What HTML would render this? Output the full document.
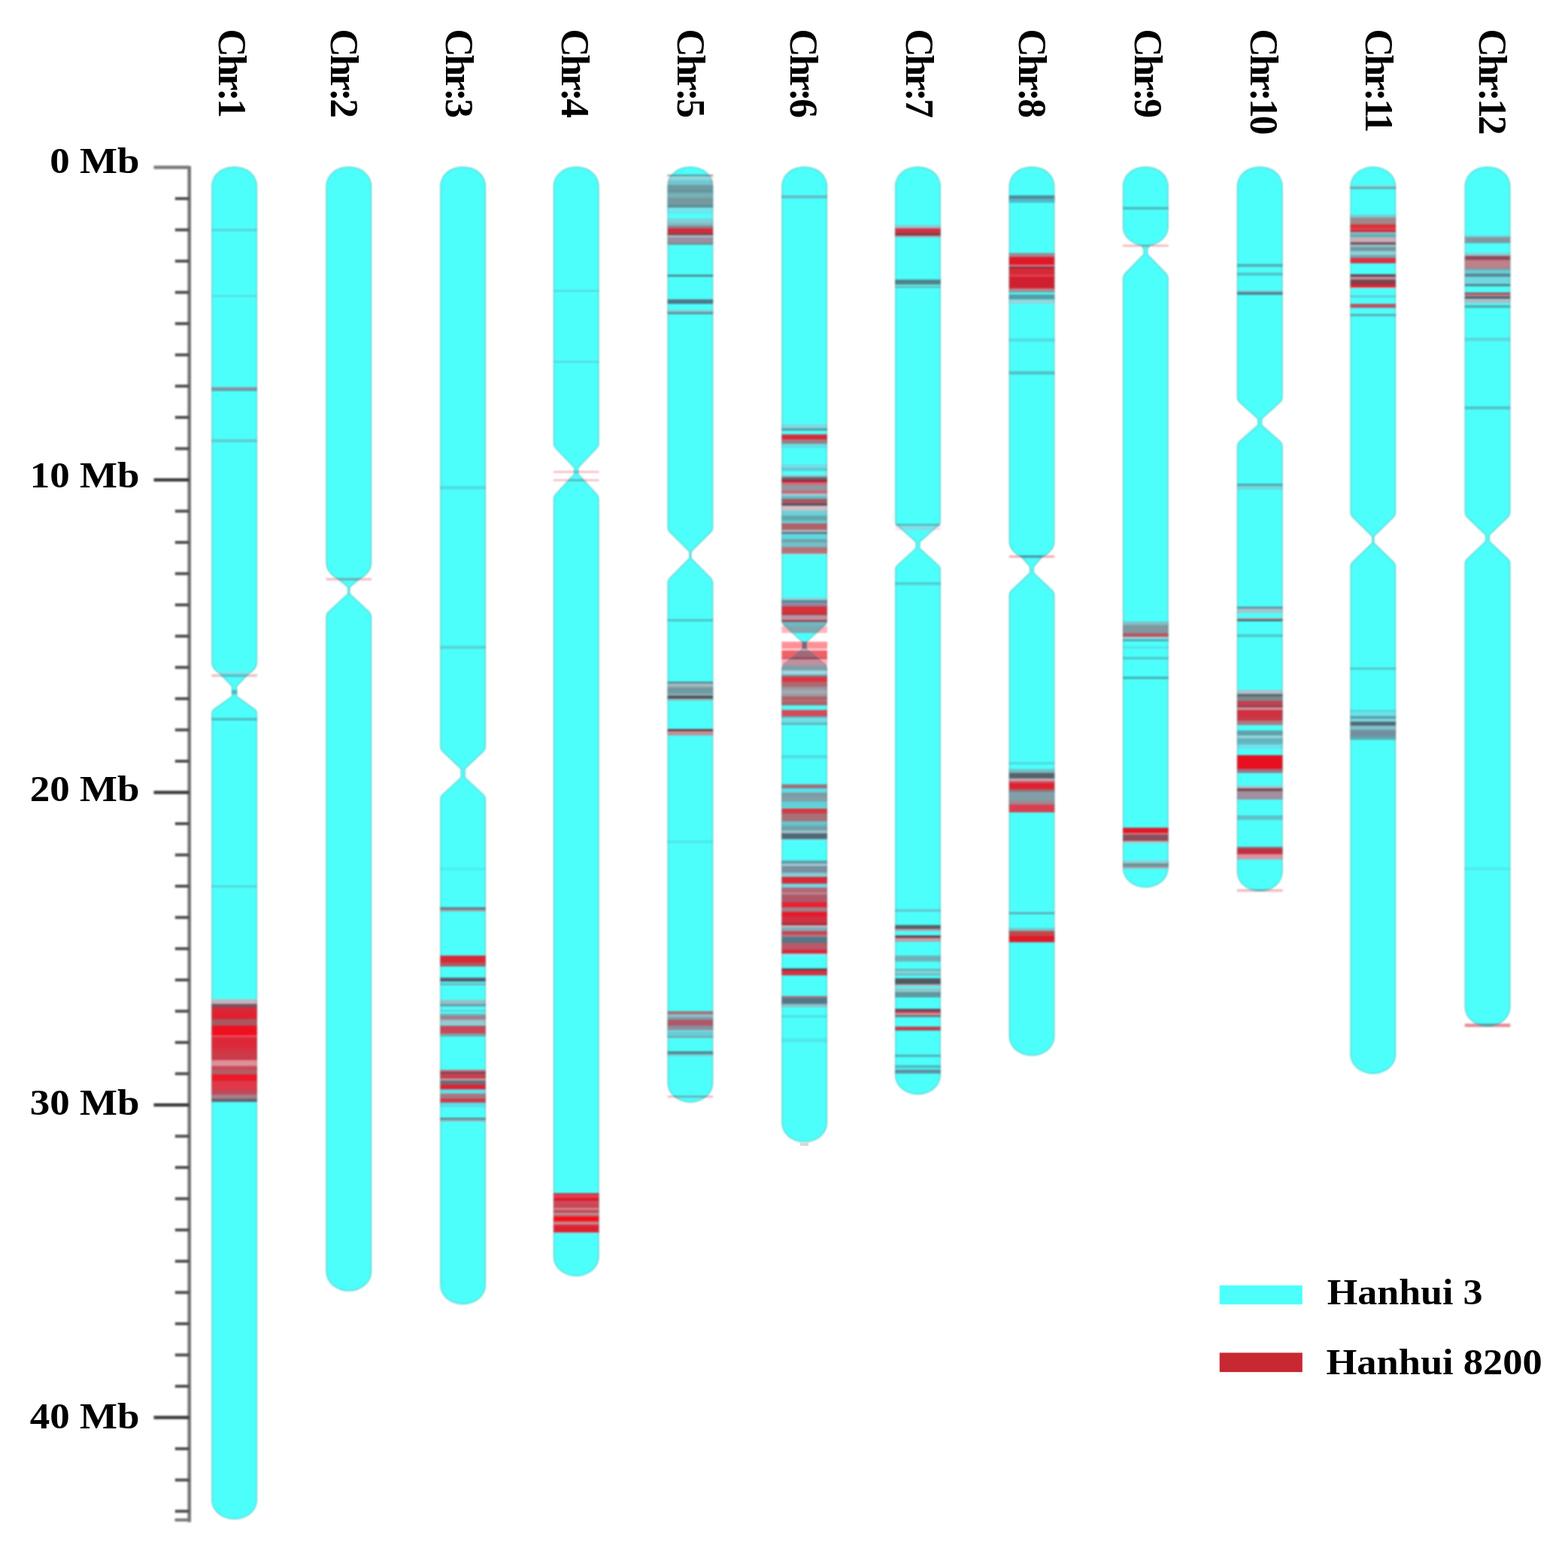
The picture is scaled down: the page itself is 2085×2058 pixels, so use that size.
<!DOCTYPE html>
<html lang="en">
<head>
<meta charset="utf-8">
<title>Chromosome map: Hanhui 3 / Hanhui 8200</title>
<style>
html,body{margin:0;padding:0;background:#fff;}
body{width:2085px;height:2058px;overflow:hidden;}
svg{display:block;}
text{font-family:"Liberation Serif","DejaVu Serif",serif;font-weight:bold;fill:#000;}
</style>
</head>
<body>
<svg width="2085" height="2058" viewBox="0 0 2085 2058">
<rect width="2085" height="2058" fill="#ffffff"/>
<defs>
<filter id="f1" x="275.6" y="215.4" width="72" height="1812.6" filterUnits="userSpaceOnUse" color-interpolation-filters="sRGB"><feGaussianBlur stdDeviation="1.05 1"/></filter>
<filter id="f2" x="427.8" y="215.4" width="72" height="1509.2" filterUnits="userSpaceOnUse" color-interpolation-filters="sRGB"><feGaussianBlur stdDeviation="1.05 1"/></filter>
<filter id="f3" x="579.6" y="215.4" width="72" height="1526.8" filterUnits="userSpaceOnUse" color-interpolation-filters="sRGB"><feGaussianBlur stdDeviation="1.05 1"/></filter>
<filter id="f4" x="730.2" y="215.4" width="72" height="1489.4" filterUnits="userSpaceOnUse" color-interpolation-filters="sRGB"><feGaussianBlur stdDeviation="1.05 1"/></filter>
<filter id="f5" x="881.9" y="215.4" width="72" height="1258.4" filterUnits="userSpaceOnUse" color-interpolation-filters="sRGB"><feGaussianBlur stdDeviation="1.05 1"/></filter>
<filter id="f6" x="1033.7" y="215.4" width="72" height="1311.2" filterUnits="userSpaceOnUse" color-interpolation-filters="sRGB"><feGaussianBlur stdDeviation="1.05 1"/></filter>
<filter id="f7" x="1184.5" y="215.4" width="72" height="1247.9" filterUnits="userSpaceOnUse" color-interpolation-filters="sRGB"><feGaussianBlur stdDeviation="1.05 1"/></filter>
<filter id="f8" x="1336" y="215.4" width="72" height="1196.2" filterUnits="userSpaceOnUse" color-interpolation-filters="sRGB"><feGaussianBlur stdDeviation="1.05 1"/></filter>
<filter id="f9" x="1487.3" y="215.4" width="72" height="972.6" filterUnits="userSpaceOnUse" color-interpolation-filters="sRGB"><feGaussianBlur stdDeviation="1.05 1"/></filter>
<filter id="f10" x="1639.2" y="215.4" width="72" height="977.6" filterUnits="userSpaceOnUse" color-interpolation-filters="sRGB"><feGaussianBlur stdDeviation="1.05 1"/></filter>
<filter id="f11" x="1789.8" y="215.4" width="72" height="1220.3" filterUnits="userSpaceOnUse" color-interpolation-filters="sRGB"><feGaussianBlur stdDeviation="1.05 1"/></filter>
<filter id="f12" x="1942" y="215.4" width="72" height="1157.4" filterUnits="userSpaceOnUse" color-interpolation-filters="sRGB"><feGaussianBlur stdDeviation="1.05 1"/></filter>
<filter id="fax" x="198" y="214" width="62" height="1816" filterUnits="userSpaceOnUse" color-interpolation-filters="sRGB"><feGaussianBlur stdDeviation="1.05 1"/></filter>
<clipPath id="c1"><path d="M281.3 246.9A30.3 25.5 0 0 1 341.9 246.9L341.9 880.5A30.3 20 0 0 1 331.6 895.52L315.2 912.5L315.2 925.5L339.05 942.47Q341.9 944.5 341.9 948L341.9 1994.5A30.3 25.5 0 0 1 281.3 1994.5L281.3 948Q281.3 944.5 284.15 942.47L308 925.5L308 912.5L291.6 895.52A30.3 20 0 0 1 281.3 880.5Z"/></clipPath>
<clipPath id="c2"><path d="M433.5 246.9A30.3 25.5 0 0 1 494.1 246.9L494.1 748A30.3 25 0 0 1 478.8 769.72L465.3 781L465.3 789L491.55 813.61Q494.1 816 494.1 819.5L494.1 1691.1A30.3 25.5 0 0 1 433.5 1691.1L433.5 819.5Q433.5 816 436.05 813.61L462.3 789L462.3 781L448.8 769.72A30.3 25 0 0 1 433.5 748Z"/></clipPath>
<clipPath id="c3"><path d="M585.3 246.9A30.3 25.5 0 0 1 645.9 246.9L645.9 993Q645.9 996.5 643.37 998.91L618.6 1022.5L618.6 1033.5L643.32 1056.14Q645.9 1058.5 645.9 1062L645.9 1708.7A30.3 25.5 0 0 1 585.3 1708.7L585.3 1062Q585.3 1058.5 587.88 1056.14L612.6 1033.5L612.6 1022.5L587.83 998.91Q585.3 996.5 585.3 993Z"/></clipPath>
<clipPath id="c4"><path d="M735.9 246.9A30.3 25.5 0 0 1 796.5 246.9L796.5 590Q796.5 593.5 794.08 596.03L769.2 622L769.2 630L794.12 656.93Q796.5 659.5 796.5 663L796.5 1671.3A30.3 25.5 0 0 1 735.9 1671.3L735.9 663Q735.9 659.5 738.28 656.93L763.2 630L763.2 622L738.32 596.03Q735.9 593.5 735.9 590Z"/></clipPath>
<clipPath id="c5"><path d="M887.6 246.9A30.3 25.5 0 0 1 948.2 246.9L948.2 701.5Q948.2 705 945.73 707.47L919.4 733.8L919.4 741.8L945.74 768.51Q948.2 771 948.2 774.5L948.2 1440.3A30.3 25.5 0 0 1 887.6 1440.3L887.6 774.5Q887.6 771 890.06 768.51L916.4 741.8L916.4 733.8L890.07 707.47Q887.6 705 887.6 701.5Z"/></clipPath>
<clipPath id="c6"><path d="M1039.4 246.9A30.3 25.5 0 0 1 1100 246.9L1100 825Q1100 828.5 1097.44 830.89L1072.7 854L1072.7 862.5L1097.3 882.77Q1100 885 1100 888.5L1100 1493.1A30.3 25.5 0 0 1 1039.4 1493.1L1039.4 888.5Q1039.4 885 1042.1 882.77L1066.7 862.5L1066.7 854L1041.96 830.89Q1039.4 828.5 1039.4 825Z"/></clipPath>
<clipPath id="c7"><path d="M1190.2 246.9A30.3 25.5 0 0 1 1250.8 246.9L1250.8 693.5Q1250.8 696.5 1248.56 698.49L1223.5 720.7L1223.5 728.7L1248.21 751.15Q1250.8 753.5 1250.8 757L1250.8 1429.8A30.3 25.5 0 0 1 1190.2 1429.8L1190.2 757Q1190.2 753.5 1192.79 751.15L1217.5 728.7L1217.5 720.7L1192.44 698.49Q1190.2 696.5 1190.2 693.5Z"/></clipPath>
<clipPath id="c8"><path d="M1341.7 246.9A30.3 25.5 0 0 1 1402.3 246.9L1402.3 720A30.3 23 0 0 1 1386.5 740.2L1375 753.5L1375 761.5L1399.77 785.09Q1402.3 787.5 1402.3 791L1402.3 1378.1A30.3 25.5 0 0 1 1341.7 1378.1L1341.7 791Q1341.7 787.5 1344.23 785.09L1369 761.5L1369 753.5L1357.5 740.2A30.3 23 0 0 1 1341.7 720Z"/></clipPath>
<clipPath id="c9"><path d="M1493 246.9A30.3 25.5 0 0 1 1553.6 246.9L1553.6 302A30.3 25 0 0 1 1529.3 326.5L1526.3 331L1526.3 338L1551.16 363.49Q1553.6 366 1553.6 369.5L1553.6 1154.5A30.3 25.5 0 0 1 1493 1154.5L1493 369.5Q1493 366 1495.44 363.49L1520.3 338L1520.3 331L1517.3 326.5A30.3 25 0 0 1 1493 302Z"/></clipPath>
<clipPath id="c10"><path d="M1644.9 246.9A30.3 25.5 0 0 1 1705.5 246.9L1705.5 529Q1705.5 532.5 1702.9 534.84L1678.2 557L1678.2 565L1702.87 586.69Q1705.5 589 1705.5 592.5L1705.5 1159.5A30.3 25.5 0 0 1 1644.9 1159.5L1644.9 592.5Q1644.9 589 1647.53 586.69L1672.2 565L1672.2 557L1647.5 534.84Q1644.9 532.5 1644.9 529Z"/></clipPath>
<clipPath id="c11"><path d="M1795.5 246.9A30.3 25.5 0 0 1 1856.1 246.9L1856.1 681.5Q1856.1 685 1853.62 687.47L1827.3 713.6L1827.3 721.6L1853.59 747.06Q1856.1 749.5 1856.1 753L1856.1 1402.2A30.3 25.5 0 0 1 1795.5 1402.2L1795.5 753Q1795.5 749.5 1798.01 747.06L1824.3 721.6L1824.3 713.6L1797.98 687.47Q1795.5 685 1795.5 681.5Z"/></clipPath>
<clipPath id="c12"><path d="M1947.7 246.9A30.3 25.5 0 0 1 2008.3 246.9L2008.3 681.5Q2008.3 685 2005.79 687.44L1981 711.5L1981 719.5L2005.77 743.09Q2008.3 745.5 2008.3 749L2008.3 1339.3A30.3 25.5 0 0 1 1947.7 1339.3L1947.7 749Q1947.7 745.5 1950.23 743.09L1975 719.5L1975 711.5L1950.21 687.44Q1947.7 685 1947.7 681.5Z"/></clipPath>
</defs>
<g id="axis" filter="url(#fax)">
<rect x="249.4" y="220.8" width="4.6" height="1802.8" fill="#777777"/>
<rect x="204.5" y="220.3" width="47" height="4.4" fill="#777777"/>
<rect x="232.8" y="262.05" width="19" height="4" fill="#505050"/>
<rect x="232.8" y="303.6" width="19" height="4" fill="#505050"/>
<rect x="232.8" y="345.15" width="19" height="4" fill="#505050"/>
<rect x="232.8" y="386.7" width="19" height="4" fill="#505050"/>
<rect x="232.8" y="428.25" width="19" height="4" fill="#505050"/>
<rect x="232.8" y="469.8" width="19" height="4" fill="#505050"/>
<rect x="232.8" y="511.35" width="19" height="4" fill="#505050"/>
<rect x="232.8" y="552.9" width="19" height="4" fill="#505050"/>
<rect x="232.8" y="594.45" width="19" height="4" fill="#505050"/>
<rect x="204.5" y="635.8" width="47" height="4.4" fill="#3a3a3a"/>
<rect x="232.8" y="677.55" width="19" height="4" fill="#505050"/>
<rect x="232.8" y="719.1" width="19" height="4" fill="#505050"/>
<rect x="232.8" y="760.65" width="19" height="4" fill="#505050"/>
<rect x="232.8" y="802.2" width="19" height="4" fill="#505050"/>
<rect x="232.8" y="843.75" width="19" height="4" fill="#505050"/>
<rect x="232.8" y="885.3" width="19" height="4" fill="#505050"/>
<rect x="232.8" y="926.85" width="19" height="4" fill="#505050"/>
<rect x="232.8" y="968.4" width="19" height="4" fill="#505050"/>
<rect x="232.8" y="1009.95" width="19" height="4" fill="#505050"/>
<rect x="204.5" y="1051.3" width="47" height="4.4" fill="#3a3a3a"/>
<rect x="232.8" y="1093.05" width="19" height="4" fill="#505050"/>
<rect x="232.8" y="1134.6" width="19" height="4" fill="#505050"/>
<rect x="232.8" y="1176.15" width="19" height="4" fill="#505050"/>
<rect x="232.8" y="1217.7" width="19" height="4" fill="#505050"/>
<rect x="232.8" y="1259.25" width="19" height="4" fill="#505050"/>
<rect x="232.8" y="1300.8" width="19" height="4" fill="#505050"/>
<rect x="232.8" y="1342.35" width="19" height="4" fill="#505050"/>
<rect x="232.8" y="1383.9" width="19" height="4" fill="#505050"/>
<rect x="232.8" y="1425.45" width="19" height="4" fill="#505050"/>
<rect x="204.5" y="1466.8" width="47" height="4.4" fill="#3a3a3a"/>
<rect x="232.8" y="1508.55" width="19" height="4" fill="#505050"/>
<rect x="232.8" y="1550.1" width="19" height="4" fill="#505050"/>
<rect x="232.8" y="1591.65" width="19" height="4" fill="#505050"/>
<rect x="232.8" y="1633.2" width="19" height="4" fill="#505050"/>
<rect x="232.8" y="1674.75" width="19" height="4" fill="#505050"/>
<rect x="232.8" y="1716.3" width="19" height="4" fill="#505050"/>
<rect x="232.8" y="1757.85" width="19" height="4" fill="#505050"/>
<rect x="232.8" y="1799.4" width="19" height="4" fill="#505050"/>
<rect x="232.8" y="1840.95" width="19" height="4" fill="#505050"/>
<rect x="204.5" y="1882.3" width="47" height="4.4" fill="#3a3a3a"/>
<rect x="232.8" y="1924.05" width="19" height="4" fill="#505050"/>
<rect x="232.8" y="1965.6" width="19" height="4" fill="#505050"/>
<rect x="232.8" y="2007.15" width="19" height="4" fill="#505050"/>
<rect x="232.5" y="2018.7" width="19" height="4" fill="#777777"/>
</g>
<g id="axis-labels">
<text transform="translate(185.4 230.2) scale(1.06 0.98)" font-size="50" text-anchor="end">0 Mb</text>
<text transform="translate(185.4 647.9) scale(1.06 0.98)" font-size="50" text-anchor="end">10 Mb</text>
<text transform="translate(185.4 1064.5) scale(1.06 0.98)" font-size="50" text-anchor="end">20 Mb</text>
<text transform="translate(185.4 1481.5) scale(1.06 0.98)" font-size="50" text-anchor="end">30 Mb</text>
<text transform="translate(185.4 1898.8) scale(1.06 0.98)" font-size="50" text-anchor="end">40 Mb</text>
</g>
<g id="chr-labels">
<text transform="translate(290.9 38.6) rotate(90) scale(1.03 1.05)" font-size="50" letter-spacing="-3.2">Chr:1</text>
<text transform="translate(440.3 38.6) rotate(90) scale(1.03 1.05)" font-size="50" letter-spacing="-3.2">Chr:2</text>
<text transform="translate(592.7 38.6) rotate(90) scale(1.03 1.05)" font-size="50" letter-spacing="-3.2">Chr:3</text>
<text transform="translate(747.4 38.6) rotate(90) scale(1.03 1.05)" font-size="50" letter-spacing="-3.2">Chr:4</text>
<text transform="translate(900.8 38.6) rotate(90) scale(1.03 1.05)" font-size="50" letter-spacing="-3.2">Chr:5</text>
<text transform="translate(1050.9 38.6) rotate(90) scale(1.03 1.05)" font-size="50" letter-spacing="-3.2">Chr:6</text>
<text transform="translate(1205 38.6) rotate(90) scale(1.03 1.05)" font-size="50" letter-spacing="-3.2">Chr:7</text>
<text transform="translate(1355.1 38.6) rotate(90) scale(1.03 1.05)" font-size="50" letter-spacing="-3.2">Chr:8</text>
<text transform="translate(1509 38.6) rotate(90) scale(1.03 1.05)" font-size="50" letter-spacing="-3.2">Chr:9</text>
<text transform="translate(1663.2 38.6) rotate(90) scale(1.03 1.05)" font-size="50" letter-spacing="-3.2">Chr:10</text>
<text transform="translate(1816 38.6) rotate(90) scale(1.03 1.05)" font-size="50" letter-spacing="-3.2">Chr:11</text>
<text transform="translate(1966.8 38.6) rotate(90) scale(1.03 1.05)" font-size="50" letter-spacing="-3.2">Chr:12</text>
</g>
<g id="chromosomes">
<g id="chr1" filter="url(#f1)">
<rect x="281.3" y="896.3" width="60.6" height="3.6" fill="#ecc4c6"/>
<path d="M281.3 246.9A30.3 25.5 0 0 1 341.9 246.9L341.9 880.5A30.3 20 0 0 1 331.6 895.52L315.2 912.5L315.2 925.5L339.05 942.47Q341.9 944.5 341.9 948L341.9 1994.5A30.3 25.5 0 0 1 281.3 1994.5L281.3 948Q281.3 944.5 284.15 942.47L308 925.5L308 912.5L291.6 895.52A30.3 20 0 0 1 281.3 880.5Z" fill="#4dfffb"/>
<g clip-path="url(#c1)">
<rect x="280.3" y="304.01" width="62.6" height="3.3" fill="#59d6da"/>
<rect x="280.3" y="392.3" width="62.6" height="2.4" fill="#59dde1"/>
<rect x="280.3" y="514.85" width="62.6" height="2.7" fill="#a3848e"/>
<rect x="280.3" y="517.36" width="62.6" height="2.4" fill="#6197aa"/>
<rect x="280.3" y="584" width="62.6" height="3.9" fill="#5ecdd4"/>
<rect x="280.3" y="892.6" width="62.6" height="4.3" fill="#7ae9ea"/>
<rect x="280.3" y="896.3" width="62.6" height="3.6" fill="#58bcc8"/>
<rect x="280.3" y="917.5" width="62.6" height="5.3" fill="#48bcc0"/>
<rect x="280.3" y="954.3" width="62.6" height="3.6" fill="#4fbfc4"/>
<rect x="280.3" y="1176.9" width="62.6" height="3" fill="#57d8da"/>
<rect x="280.3" y="1328.63" width="62.6" height="6.63" fill="#c8b4bc"/>
<rect x="280.3" y="1334.66" width="62.6" height="4.53" fill="#6a5a66"/>
<rect x="280.3" y="1338.59" width="62.6" height="8.47" fill="#d82838"/>
<rect x="280.3" y="1346.46" width="62.6" height="8.99" fill="#e02030"/>
<rect x="280.3" y="1354.85" width="62.6" height="9.25" fill="#a85860"/>
<rect x="280.3" y="1363.5" width="62.6" height="13.71" fill="#ee1020"/>
<rect x="280.3" y="1376.61" width="62.6" height="2.44" fill="#f06070"/>
<rect x="280.3" y="1378.45" width="62.6" height="14.5" fill="#dc2838"/>
<rect x="280.3" y="1392.34" width="62.6" height="5.84" fill="#d83040"/>
<rect x="280.3" y="1397.59" width="62.6" height="12.4" fill="#cc3a48"/>
<rect x="280.3" y="1409.39" width="62.6" height="8.47" fill="#e09098"/>
<rect x="280.3" y="1417.25" width="62.6" height="5.84" fill="#c84858"/>
<rect x="280.3" y="1422.5" width="62.6" height="6.37" fill="#b06068"/>
<rect x="280.3" y="1428.26" width="62.6" height="9.25" fill="#ec1828"/>
<rect x="280.3" y="1436.92" width="62.6" height="12.4" fill="#e03848"/>
<rect x="280.3" y="1448.72" width="62.6" height="7.15" fill="#c04858"/>
<rect x="280.3" y="1455.27" width="62.6" height="5.84" fill="#a88088"/>
<rect x="280.3" y="1460.51" width="62.6" height="4.46" fill="#6a6070"/>
</g>
<path d="M281.3 246.9A30.3 25.5 0 0 1 341.9 246.9L341.9 880.5A30.3 20 0 0 1 331.6 895.52L315.2 912.5L315.2 925.5L339.05 942.47Q341.9 944.5 341.9 948L341.9 1994.5A30.3 25.5 0 0 1 281.3 1994.5L281.3 948Q281.3 944.5 284.15 942.47L308 925.5L308 912.5L291.6 895.52A30.3 20 0 0 1 281.3 880.5Z" fill="none" stroke="#606868" stroke-width="2.6" stroke-opacity="0.3" clip-path="url(#c1)"/>
</g>
<g id="chr2" filter="url(#f2)">
<rect x="433.5" y="768.59" width="60.6" height="2.99" fill="#f2b8be"/>
<path d="M433.5 246.9A30.3 25.5 0 0 1 494.1 246.9L494.1 748A30.3 25 0 0 1 478.8 769.72L465.3 781L465.3 789L491.55 813.61Q494.1 816 494.1 819.5L494.1 1691.1A30.3 25.5 0 0 1 433.5 1691.1L433.5 819.5Q433.5 816 436.05 813.61L462.3 789L462.3 781L448.8 769.72A30.3 25 0 0 1 433.5 748Z" fill="#4dfffb"/>
<g clip-path="url(#c2)">
<rect x="432.5" y="768.59" width="62.6" height="2.99" fill="#70a8b0"/>
</g>
<path d="M433.5 246.9A30.3 25.5 0 0 1 494.1 246.9L494.1 748A30.3 25 0 0 1 478.8 769.72L465.3 781L465.3 789L491.55 813.61Q494.1 816 494.1 819.5L494.1 1691.1A30.3 25.5 0 0 1 433.5 1691.1L433.5 819.5Q433.5 816 436.05 813.61L462.3 789L462.3 781L448.8 769.72A30.3 25 0 0 1 433.5 748Z" fill="none" stroke="#606868" stroke-width="2.6" stroke-opacity="0.3" clip-path="url(#c2)"/>
</g>
<g id="chr3" filter="url(#f3)">
<path d="M585.3 246.9A30.3 25.5 0 0 1 645.9 246.9L645.9 993Q645.9 996.5 643.37 998.91L618.6 1022.5L618.6 1033.5L643.32 1056.14Q645.9 1058.5 645.9 1062L645.9 1708.7A30.3 25.5 0 0 1 585.3 1708.7L585.3 1062Q585.3 1058.5 587.88 1056.14L612.6 1033.5L612.6 1022.5L587.83 998.91Q585.3 996.5 585.3 993Z" fill="#4dfffb"/>
<g clip-path="url(#c3)">
<rect x="584.3" y="646.1" width="62.6" height="4.5" fill="#4fdee2"/>
<rect x="584.3" y="858.59" width="62.6" height="3.9" fill="#55d3d7"/>
<rect x="584.3" y="1153.26" width="62.6" height="3.6" fill="#4aeff0"/>
<rect x="584.3" y="1206.19" width="62.6" height="3.22" fill="#607880"/>
<rect x="584.3" y="1208.81" width="62.6" height="2.62" fill="#b09098"/>
<rect x="584.3" y="1270.42" width="62.6" height="9.78" fill="#d82838"/>
<rect x="584.3" y="1279.6" width="62.6" height="5.24" fill="#b05860"/>
<rect x="584.3" y="1299.79" width="62.6" height="5.24" fill="#5a5a6c"/>
<rect x="584.3" y="1307.13" width="62.6" height="2.62" fill="#70b0b8"/>
<rect x="584.3" y="1329.42" width="62.6" height="5.84" fill="#98c0c8"/>
<rect x="584.3" y="1334.66" width="62.6" height="3.41" fill="#6aa0a8"/>
<rect x="584.3" y="1342.53" width="62.6" height="2.62" fill="#60d0d8"/>
<rect x="584.3" y="1347.77" width="62.6" height="3.22" fill="#70b0b8"/>
<rect x="584.3" y="1350.39" width="62.6" height="5.84" fill="#a08088"/>
<rect x="584.3" y="1355.64" width="62.6" height="6.55" fill="#98c8d0"/>
<rect x="584.3" y="1363.5" width="62.6" height="11.09" fill="#c84858"/>
<rect x="584.3" y="1373.99" width="62.6" height="3.93" fill="#80a0a8"/>
<rect x="584.3" y="1422.5" width="62.6" height="3.22" fill="#d06070"/>
<rect x="584.3" y="1425.12" width="62.6" height="2.7" fill="#704050"/>
<rect x="584.3" y="1427.22" width="62.6" height="7.68" fill="#c84050"/>
<rect x="584.3" y="1434.29" width="62.6" height="2.44" fill="#c0c0c8"/>
<rect x="584.3" y="1436.13" width="62.6" height="6.63" fill="#786870"/>
<rect x="584.3" y="1442.16" width="62.6" height="6.63" fill="#e02030"/>
<rect x="584.3" y="1448.19" width="62.6" height="6.37" fill="#60e0e8"/>
<rect x="584.3" y="1453.96" width="62.6" height="7.15" fill="#a87880"/>
<rect x="584.3" y="1460.51" width="62.6" height="5.84" fill="#d03848"/>
<rect x="584.3" y="1465.76" width="62.6" height="6.55" fill="#58e0e8"/>
<rect x="584.3" y="1485.95" width="62.6" height="2.7" fill="#508890"/>
<rect x="584.3" y="1488.04" width="62.6" height="2.62" fill="#a0a0b0"/>
</g>
<path d="M585.3 246.9A30.3 25.5 0 0 1 645.9 246.9L645.9 993Q645.9 996.5 643.37 998.91L618.6 1022.5L618.6 1033.5L643.32 1056.14Q645.9 1058.5 645.9 1062L645.9 1708.7A30.3 25.5 0 0 1 585.3 1708.7L585.3 1062Q585.3 1058.5 587.88 1056.14L612.6 1033.5L612.6 1022.5L587.83 998.91Q585.3 996.5 585.3 993Z" fill="none" stroke="#606868" stroke-width="2.6" stroke-opacity="0.3" clip-path="url(#c3)"/>
</g>
<g id="chr4" filter="url(#f4)">
<rect x="735.9" y="626.22" width="60.6" height="2.3" fill="#f4b4bc"/>
<rect x="735.9" y="637.23" width="60.6" height="2.3" fill="#f4b4bc"/>
<path d="M735.9 246.9A30.3 25.5 0 0 1 796.5 246.9L796.5 590Q796.5 593.5 794.08 596.03L769.2 622L769.2 630L794.12 656.93Q796.5 659.5 796.5 663L796.5 1671.3A30.3 25.5 0 0 1 735.9 1671.3L735.9 663Q735.9 659.5 738.28 656.93L763.2 630L763.2 622L738.32 596.03Q735.9 593.5 735.9 590Z" fill="#4dfffb"/>
<g clip-path="url(#c4)">
<rect x="734.9" y="385.48" width="62.6" height="2.4" fill="#55d8dd"/>
<rect x="734.9" y="479.87" width="62.6" height="2.4" fill="#55d8dd"/>
<rect x="734.9" y="626.22" width="62.6" height="2.3" fill="#60b0c0"/>
<rect x="734.9" y="637.23" width="62.6" height="2.3" fill="#60a8b0"/>
<rect x="734.9" y="1586.35" width="62.6" height="1.96" fill="#c02030"/>
<rect x="734.9" y="1587.72" width="62.6" height="5.37" fill="#e04050"/>
<rect x="734.9" y="1592.49" width="62.6" height="4.69" fill="#e01828"/>
<rect x="734.9" y="1596.58" width="62.6" height="2.64" fill="#d05060"/>
<rect x="734.9" y="1598.62" width="62.6" height="8.1" fill="#c84858"/>
<rect x="734.9" y="1606.12" width="62.6" height="2.64" fill="#e09098"/>
<rect x="734.9" y="1608.17" width="62.6" height="5.37" fill="#c05058"/>
<rect x="734.9" y="1612.94" width="62.6" height="2.64" fill="#c0a0a8"/>
<rect x="734.9" y="1614.98" width="62.6" height="3.33" fill="#b86068"/>
<rect x="734.9" y="1617.71" width="62.6" height="6.05" fill="#ff0810"/>
<rect x="734.9" y="1623.16" width="62.6" height="2.64" fill="#d05060"/>
<rect x="734.9" y="1625.21" width="62.6" height="2.64" fill="#c8a0a8"/>
<rect x="734.9" y="1627.25" width="62.6" height="2.64" fill="#d04858"/>
<rect x="734.9" y="1629.3" width="62.6" height="9.73" fill="#e02030"/>
<rect x="734.9" y="1638.43" width="62.6" height="1.77" fill="#80e8f0"/>
</g>
<path d="M735.9 246.9A30.3 25.5 0 0 1 796.5 246.9L796.5 590Q796.5 593.5 794.08 596.03L769.2 622L769.2 630L794.12 656.93Q796.5 659.5 796.5 663L796.5 1671.3A30.3 25.5 0 0 1 735.9 1671.3L735.9 663Q735.9 659.5 738.28 656.93L763.2 630L763.2 622L738.32 596.03Q735.9 593.5 735.9 590Z" fill="none" stroke="#606868" stroke-width="2.6" stroke-opacity="0.3" clip-path="url(#c4)"/>
</g>
<g id="chr5" filter="url(#f5)">
<rect x="887.6" y="232.38" width="60.6" height="1.84" fill="#708890"/>
<rect x="887.6" y="234.08" width="60.6" height="5.24" fill="#ffe0e6"/>
<rect x="887.6" y="239.33" width="60.6" height="6.55" fill="#ffd3d9"/>
<rect x="887.6" y="1456.63" width="60.6" height="2.53" fill="#f2b0c0"/>
<path d="M887.6 246.9A30.3 25.5 0 0 1 948.2 246.9L948.2 701.5Q948.2 705 945.73 707.47L919.4 733.8L919.4 741.8L945.74 768.51Q948.2 771 948.2 774.5L948.2 1440.3A30.3 25.5 0 0 1 887.6 1440.3L887.6 774.5Q887.6 771 890.06 768.51L916.4 741.8L916.4 733.8L890.07 707.47Q887.6 705 887.6 701.5Z" fill="#4dfffb"/>
<g clip-path="url(#c5)">
<rect x="886.6" y="232.38" width="62.6" height="1.84" fill="#508088"/>
<rect x="886.6" y="234.08" width="62.6" height="5.84" fill="#90d8e0"/>
<rect x="886.6" y="239.33" width="62.6" height="7.15" fill="#70c8d0"/>
<rect x="886.6" y="245.88" width="62.6" height="7.15" fill="#7098a0"/>
<rect x="886.6" y="252.44" width="62.6" height="4.53" fill="#6098a0"/>
<rect x="886.6" y="256.37" width="62.6" height="7.15" fill="#78b0b8"/>
<rect x="886.6" y="262.93" width="62.6" height="9.78" fill="#7898a0"/>
<rect x="886.6" y="272.1" width="62.6" height="4.53" fill="#609098"/>
<rect x="886.6" y="276.04" width="62.6" height="5.84" fill="#70e8f0"/>
<rect x="886.6" y="281.28" width="62.6" height="2.62" fill="#70e0e8"/>
<rect x="886.6" y="290.46" width="62.6" height="5.84" fill="#80d0d8"/>
<rect x="886.6" y="295.7" width="62.6" height="4.53" fill="#80c0c8"/>
<rect x="886.6" y="299.63" width="62.6" height="4.53" fill="#888890"/>
<rect x="886.6" y="303.57" width="62.6" height="7.15" fill="#d82838"/>
<rect x="886.6" y="310.12" width="62.6" height="3.22" fill="#704850"/>
<rect x="886.6" y="312.74" width="62.6" height="3.22" fill="#b0c0c8"/>
<rect x="886.6" y="315.36" width="62.6" height="7.94" fill="#9890a0"/>
<rect x="886.6" y="322.71" width="62.6" height="2.62" fill="#808890"/>
<rect x="886.6" y="365.18" width="62.6" height="2.62" fill="#508088"/>
<rect x="886.6" y="397.95" width="62.6" height="6.03" fill="#507888"/>
<rect x="886.6" y="411.85" width="62.6" height="3.75" fill="#80d0d8"/>
<rect x="886.6" y="415" width="62.6" height="2.62" fill="#608890"/>
<rect x="886.6" y="823.12" width="62.6" height="3" fill="#4fc2c6"/>
<rect x="886.6" y="906.42" width="62.6" height="2.44" fill="#507078"/>
<rect x="886.6" y="908.26" width="62.6" height="5.84" fill="#a0b8c0"/>
<rect x="886.6" y="913.5" width="62.6" height="2.44" fill="#7898a0"/>
<rect x="886.6" y="915.34" width="62.6" height="6.63" fill="#7098a0"/>
<rect x="886.6" y="921.37" width="62.6" height="4.53" fill="#80a8b0"/>
<rect x="886.6" y="925.3" width="62.6" height="3.75" fill="#404850"/>
<rect x="886.6" y="928.45" width="62.6" height="2.62" fill="#b0a0a8"/>
<rect x="886.6" y="969.35" width="62.6" height="3.22" fill="#703038"/>
<rect x="886.6" y="971.97" width="62.6" height="5.77" fill="#c09098"/>
<rect x="886.6" y="1117.34" width="62.6" height="3.6" fill="#4ae9ee"/>
<rect x="886.6" y="1344.36" width="62.6" height="4.8" fill="#a07078"/>
<rect x="886.6" y="1348.56" width="62.6" height="3.75" fill="#90c8d0"/>
<rect x="886.6" y="1351.7" width="62.6" height="4.53" fill="#80a0a8"/>
<rect x="886.6" y="1355.64" width="62.6" height="8.47" fill="#b05868"/>
<rect x="886.6" y="1363.5" width="62.6" height="6.63" fill="#8890a0"/>
<rect x="886.6" y="1369.53" width="62.6" height="2.44" fill="#90d8e0"/>
<rect x="886.6" y="1371.37" width="62.6" height="6.63" fill="#60d0d8"/>
<rect x="886.6" y="1377.4" width="62.6" height="2.62" fill="#80a8b0"/>
<rect x="886.6" y="1397.59" width="62.6" height="4.53" fill="#508890"/>
<rect x="886.6" y="1401.52" width="62.6" height="2.62" fill="#80d0d8"/>
<rect x="886.6" y="1456.63" width="62.6" height="2.53" fill="#70a8b0"/>
</g>
<path d="M887.6 246.9A30.3 25.5 0 0 1 948.2 246.9L948.2 701.5Q948.2 705 945.73 707.47L919.4 733.8L919.4 741.8L945.74 768.51Q948.2 771 948.2 774.5L948.2 1440.3A30.3 25.5 0 0 1 887.6 1440.3L887.6 774.5Q887.6 771 890.06 768.51L916.4 741.8L916.4 733.8L890.07 707.47Q887.6 705 887.6 701.5Z" fill="none" stroke="#606868" stroke-width="2.6" stroke-opacity="0.3" clip-path="url(#c5)"/>
</g>
<g id="chr6" filter="url(#f6)">
<rect x="1039.4" y="817.71" width="60.6" height="6.82" fill="#ffa6b3"/>
<rect x="1039.4" y="824.53" width="60.6" height="2.04" fill="#ff5966"/>
<rect x="1039.4" y="826.57" width="60.6" height="6.13" fill="#e8f4f6"/>
<rect x="1039.4" y="832.71" width="60.6" height="8.86" fill="#ffb4bc"/>
<rect x="1039.4" y="853.16" width="60.6" height="9.54" fill="#ff9098"/>
<rect x="1039.4" y="864.47" width="60.6" height="9.82" fill="#f06068"/>
<rect x="1039.4" y="874.29" width="60.6" height="2.04" fill="#c83848"/>
<rect x="1039.4" y="876.33" width="60.6" height="8.45" fill="#ffa8b4"/>
<path d="M1039.4 246.9A30.3 25.5 0 0 1 1100 246.9L1100 825Q1100 828.5 1097.44 830.89L1072.7 854L1072.7 862.5L1097.3 882.77Q1100 885 1100 888.5L1100 1493.1A30.3 25.5 0 0 1 1039.4 1493.1L1039.4 888.5Q1039.4 885 1042.1 882.77L1066.7 862.5L1066.7 854L1041.96 830.89Q1039.4 828.5 1039.4 825Z" fill="#4dfffb"/>
<g clip-path="url(#c6)">
<rect x="1038.4" y="259.78" width="62.6" height="3.67" fill="#60b8c0"/>
<rect x="1038.4" y="563.92" width="62.6" height="6.37" fill="#80d8e0"/>
<rect x="1038.4" y="569.69" width="62.6" height="2.62" fill="#509098"/>
<rect x="1038.4" y="577.56" width="62.6" height="7.15" fill="#d82838"/>
<rect x="1038.4" y="584.11" width="62.6" height="6.37" fill="#a07880"/>
<rect x="1038.4" y="589.88" width="62.6" height="6.03" fill="#60e0e8"/>
<rect x="1038.4" y="616.89" width="62.6" height="5.84" fill="#70e0e8"/>
<rect x="1038.4" y="622.13" width="62.6" height="3.93" fill="#60c8d0"/>
<rect x="1038.4" y="631.31" width="62.6" height="3.22" fill="#a0c8d0"/>
<rect x="1038.4" y="633.93" width="62.6" height="4.01" fill="#607078"/>
<rect x="1038.4" y="637.34" width="62.6" height="4.27" fill="#a02838"/>
<rect x="1038.4" y="641.01" width="62.6" height="4.01" fill="#e06070"/>
<rect x="1038.4" y="644.42" width="62.6" height="8.47" fill="#9098a0"/>
<rect x="1038.4" y="652.28" width="62.6" height="4.53" fill="#d06070"/>
<rect x="1038.4" y="656.21" width="62.6" height="3.56" fill="#a0d0d8"/>
<rect x="1038.4" y="659.18" width="62.6" height="4.53" fill="#60c0c8"/>
<rect x="1038.4" y="663.11" width="62.6" height="7.15" fill="#a85862"/>
<rect x="1038.4" y="669.66" width="62.6" height="3.22" fill="#504858"/>
<rect x="1038.4" y="672.29" width="62.6" height="7.15" fill="#d0c0c8"/>
<rect x="1038.4" y="678.84" width="62.6" height="7.15" fill="#70d0d8"/>
<rect x="1038.4" y="685.4" width="62.6" height="7.15" fill="#60a8b0"/>
<rect x="1038.4" y="691.95" width="62.6" height="4.53" fill="#70c8d0"/>
<rect x="1038.4" y="695.88" width="62.6" height="9.25" fill="#b06068"/>
<rect x="1038.4" y="704.54" width="62.6" height="3.22" fill="#b0c0c8"/>
<rect x="1038.4" y="707.16" width="62.6" height="3.22" fill="#607080"/>
<rect x="1038.4" y="709.78" width="62.6" height="7.68" fill="#60d8e0"/>
<rect x="1038.4" y="716.86" width="62.6" height="4.53" fill="#70a0a8"/>
<rect x="1038.4" y="720.79" width="62.6" height="7.15" fill="#70c0c8"/>
<rect x="1038.4" y="727.35" width="62.6" height="9.25" fill="#b87078"/>
<rect x="1038.4" y="736" width="62.6" height="1.84" fill="#90e0e8"/>
<rect x="1038.4" y="794.53" width="62.6" height="4.01" fill="#90d0d8"/>
<rect x="1038.4" y="797.94" width="62.6" height="3.33" fill="#508890"/>
<rect x="1038.4" y="800.67" width="62.6" height="6.05" fill="#9088a0"/>
<rect x="1038.4" y="806.12" width="62.6" height="10.14" fill="#d83038"/>
<rect x="1038.4" y="815.66" width="62.6" height="2.64" fill="#a04048"/>
<rect x="1038.4" y="817.71" width="62.6" height="7.42" fill="#c090a0"/>
<rect x="1038.4" y="824.53" width="62.6" height="2.64" fill="#903040"/>
<rect x="1038.4" y="826.57" width="62.6" height="6.73" fill="#70b8c0"/>
<rect x="1038.4" y="832.71" width="62.6" height="8.86" fill="#80a8b0"/>
<rect x="1038.4" y="853.16" width="62.6" height="10.14" fill="#806070"/>
<rect x="1038.4" y="862.7" width="62.6" height="2.37" fill="#e8d8e0"/>
<rect x="1038.4" y="864.47" width="62.6" height="10.42" fill="#a06878"/>
<rect x="1038.4" y="874.29" width="62.6" height="2.64" fill="#903848"/>
<rect x="1038.4" y="876.33" width="62.6" height="9.05" fill="#c090a0"/>
<rect x="1038.4" y="884.79" width="62.6" height="7.14" fill="#80a0a8"/>
<rect x="1038.4" y="891.33" width="62.6" height="6.05" fill="#a0d8e0"/>
<rect x="1038.4" y="896.78" width="62.6" height="3.33" fill="#60a0a8"/>
<rect x="1038.4" y="899.51" width="62.6" height="7.42" fill="#e03040"/>
<rect x="1038.4" y="906.33" width="62.6" height="7.42" fill="#b06870"/>
<rect x="1038.4" y="913.14" width="62.6" height="4.69" fill="#9898a0"/>
<rect x="1038.4" y="917.23" width="62.6" height="6.05" fill="#a8a8b0"/>
<rect x="1038.4" y="922.69" width="62.6" height="4.01" fill="#9898a0"/>
<rect x="1038.4" y="926.09" width="62.6" height="5.37" fill="#b06068"/>
<rect x="1038.4" y="930.87" width="62.6" height="1.96" fill="#c07880"/>
<rect x="1038.4" y="932.23" width="62.6" height="5.45" fill="#b06068"/>
<rect x="1038.4" y="943.82" width="62.6" height="8.78" fill="#d84858"/>
<rect x="1038.4" y="952" width="62.6" height="2.64" fill="#60a8b0"/>
<rect x="1038.4" y="954.04" width="62.6" height="7.42" fill="#70e0e8"/>
<rect x="1038.4" y="960.86" width="62.6" height="2.73" fill="#60b0b8"/>
<rect x="1038.4" y="1003.81" width="62.6" height="4.5" fill="#4fdee2"/>
<rect x="1038.4" y="1042.76" width="62.6" height="5.84" fill="#a07078"/>
<rect x="1038.4" y="1048.01" width="62.6" height="6.37" fill="#58e0e8"/>
<rect x="1038.4" y="1053.78" width="62.6" height="5.84" fill="#8098a0"/>
<rect x="1038.4" y="1059.02" width="62.6" height="7.15" fill="#80a0a8"/>
<rect x="1038.4" y="1065.57" width="62.6" height="7.87" fill="#60d0d8"/>
<rect x="1038.4" y="1074.75" width="62.6" height="7.15" fill="#d83840"/>
<rect x="1038.4" y="1081.31" width="62.6" height="11.09" fill="#a87078"/>
<rect x="1038.4" y="1091.79" width="62.6" height="5.84" fill="#70c0c8"/>
<rect x="1038.4" y="1097.04" width="62.6" height="4.53" fill="#60b0b8"/>
<rect x="1038.4" y="1100.97" width="62.6" height="3.22" fill="#90d8e0"/>
<rect x="1038.4" y="1103.59" width="62.6" height="3.22" fill="#c0b0b8"/>
<rect x="1038.4" y="1106.21" width="62.6" height="4.53" fill="#506068"/>
<rect x="1038.4" y="1110.15" width="62.6" height="5.84" fill="#586878"/>
<rect x="1038.4" y="1115.39" width="62.6" height="1.31" fill="#a0d8e0"/>
<rect x="1038.4" y="1144.23" width="62.6" height="5.77" fill="#70a0a8"/>
<rect x="1038.4" y="1100" width="62.6" height="4.53" fill="#70a0a8"/>
<rect x="1038.4" y="1103.93" width="62.6" height="4.53" fill="#a0c0c8"/>
<rect x="1038.4" y="1107.87" width="62.6" height="7.34" fill="#506878"/>
<rect x="1038.4" y="1144.05" width="62.6" height="5.06" fill="#60a0a8"/>
<rect x="1038.4" y="1148.51" width="62.6" height="3.22" fill="#b0d0d8"/>
<rect x="1038.4" y="1151.13" width="62.6" height="9.78" fill="#7890a0"/>
<rect x="1038.4" y="1160.3" width="62.6" height="3.93" fill="#90c8d0"/>
<rect x="1038.4" y="1165.55" width="62.6" height="9.78" fill="#d82838"/>
<rect x="1038.4" y="1174.72" width="62.6" height="5.84" fill="#70d8e0"/>
<rect x="1038.4" y="1179.97" width="62.6" height="7.15" fill="#b06878"/>
<rect x="1038.4" y="1186.52" width="62.6" height="3.22" fill="#c08890"/>
<rect x="1038.4" y="1189.15" width="62.6" height="11.09" fill="#b05868"/>
<rect x="1038.4" y="1199.63" width="62.6" height="7.15" fill="#e82030"/>
<rect x="1038.4" y="1206.19" width="62.6" height="6.63" fill="#a08088"/>
<rect x="1038.4" y="1212.22" width="62.6" height="6.37" fill="#e81828"/>
<rect x="1038.4" y="1217.99" width="62.6" height="9.78" fill="#d03040"/>
<rect x="1038.4" y="1227.16" width="62.6" height="3.75" fill="#a03040"/>
<rect x="1038.4" y="1230.31" width="62.6" height="2.7" fill="#e0c0c8"/>
<rect x="1038.4" y="1232.41" width="62.6" height="5.84" fill="#80b0b8"/>
<rect x="1038.4" y="1237.65" width="62.6" height="5.84" fill="#c04858"/>
<rect x="1038.4" y="1242.89" width="62.6" height="3.22" fill="#c07880"/>
<rect x="1038.4" y="1245.52" width="62.6" height="8.47" fill="#507888"/>
<rect x="1038.4" y="1253.38" width="62.6" height="9.78" fill="#b85868"/>
<rect x="1038.4" y="1262.56" width="62.6" height="5.84" fill="#d82838"/>
<rect x="1038.4" y="1267.8" width="62.6" height="2.62" fill="#90e8f0"/>
<rect x="1038.4" y="1287.47" width="62.6" height="3.22" fill="#604048"/>
<rect x="1038.4" y="1290.09" width="62.6" height="6.55" fill="#d83040"/>
<rect x="1038.4" y="1324.17" width="62.6" height="3.22" fill="#b07078"/>
<rect x="1038.4" y="1326.8" width="62.6" height="8.47" fill="#507888"/>
<rect x="1038.4" y="1334.66" width="62.6" height="4.46" fill="#90c0c8"/>
<rect x="1038.4" y="1349.68" width="62.6" height="3" fill="#4fdee2"/>
<rect x="1038.4" y="1380.55" width="62.6" height="5.24" fill="#50e8f0"/>
</g>
<path d="M1039.4 246.9A30.3 25.5 0 0 1 1100 246.9L1100 825Q1100 828.5 1097.44 830.89L1072.7 854L1072.7 862.5L1097.3 882.77Q1100 885 1100 888.5L1100 1493.1A30.3 25.5 0 0 1 1039.4 1493.1L1039.4 888.5Q1039.4 885 1042.1 882.77L1066.7 862.5L1066.7 854L1041.96 830.89Q1039.4 828.5 1039.4 825Z" fill="none" stroke="#606868" stroke-width="2.6" stroke-opacity="0.3" clip-path="url(#c6)"/>
</g>
<g id="chr7" filter="url(#f7)">
<rect x="1190.2" y="696.67" width="60.6" height="1.84" fill="#ffb3b9"/>
<rect x="1190.2" y="698.51" width="60.6" height="6.55" fill="#ffe6ed"/>
<path d="M1190.2 246.9A30.3 25.5 0 0 1 1250.8 246.9L1250.8 693.5Q1250.8 696.5 1248.56 698.49L1223.5 720.7L1223.5 728.7L1248.21 751.15Q1250.8 753.5 1250.8 757L1250.8 1429.8A30.3 25.5 0 0 1 1190.2 1429.8L1190.2 757Q1190.2 753.5 1192.79 751.15L1217.5 728.7L1217.5 720.7L1192.44 698.49Q1190.2 696.5 1190.2 693.5Z" fill="#4dfffb"/>
<g clip-path="url(#c7)">
<rect x="1189.2" y="299.11" width="62.6" height="5.06" fill="#90c8d0"/>
<rect x="1189.2" y="303.57" width="62.6" height="7.15" fill="#d03040"/>
<rect x="1189.2" y="310.12" width="62.6" height="3.75" fill="#803848"/>
<rect x="1189.2" y="313.27" width="62.6" height="2.1" fill="#c0a0a8"/>
<rect x="1189.2" y="371.74" width="62.6" height="6.55" fill="#508088"/>
<rect x="1189.2" y="380.39" width="62.6" height="2.36" fill="#70b0b8"/>
<rect x="1189.2" y="696.67" width="62.6" height="2.44" fill="#50a0a8"/>
<rect x="1189.2" y="698.51" width="62.6" height="6.55" fill="#80e0e8"/>
<rect x="1189.2" y="774.05" width="62.6" height="3.6" fill="#4fcdd2"/>
<rect x="1189.2" y="1208.81" width="62.6" height="3.41" fill="#60c8d0"/>
<rect x="1189.2" y="1229.79" width="62.6" height="5.84" fill="#586068"/>
<rect x="1189.2" y="1235.03" width="62.6" height="2.62" fill="#c0a0a8"/>
<rect x="1189.2" y="1243.68" width="62.6" height="3.75" fill="#703848"/>
<rect x="1189.2" y="1246.83" width="62.6" height="5.24" fill="#c0a0a8"/>
<rect x="1189.2" y="1270.42" width="62.6" height="7.87" fill="#70b0b8"/>
<rect x="1189.2" y="1288.25" width="62.6" height="2.44" fill="#60a8b0"/>
<rect x="1189.2" y="1290.09" width="62.6" height="5.84" fill="#80d0d8"/>
<rect x="1189.2" y="1295.33" width="62.6" height="1.31" fill="#70a0a8"/>
<rect x="1189.2" y="1300.58" width="62.6" height="8.47" fill="#505860"/>
<rect x="1189.2" y="1308.44" width="62.6" height="2.62" fill="#c0b0b8"/>
<rect x="1189.2" y="1313.69" width="62.6" height="5.84" fill="#90c8d0"/>
<rect x="1189.2" y="1318.93" width="62.6" height="7.08" fill="#6098a0"/>
<rect x="1189.2" y="1341.22" width="62.6" height="3.75" fill="#604858"/>
<rect x="1189.2" y="1344.36" width="62.6" height="3.22" fill="#d04050"/>
<rect x="1189.2" y="1346.98" width="62.6" height="2.7" fill="#e0a0a8"/>
<rect x="1189.2" y="1349.08" width="62.6" height="3.15" fill="#707880"/>
<rect x="1189.2" y="1364.81" width="62.6" height="5.24" fill="#c04050"/>
<rect x="1189.2" y="1402.12" width="62.6" height="3" fill="#4fb1b6"/>
<rect x="1189.2" y="1416.09" width="62.6" height="3.9" fill="#4fbcc1"/>
<rect x="1189.2" y="1421.97" width="62.6" height="5.24" fill="#6090a0"/>
</g>
<path d="M1190.2 246.9A30.3 25.5 0 0 1 1250.8 246.9L1250.8 693.5Q1250.8 696.5 1248.56 698.49L1223.5 720.7L1223.5 728.7L1248.21 751.15Q1250.8 753.5 1250.8 757L1250.8 1429.8A30.3 25.5 0 0 1 1190.2 1429.8L1190.2 757Q1190.2 753.5 1192.79 751.15L1217.5 728.7L1217.5 720.7L1192.44 698.49Q1190.2 696.5 1190.2 693.5Z" fill="none" stroke="#606868" stroke-width="2.6" stroke-opacity="0.3" clip-path="url(#c7)"/>
</g>
<g id="chr8" filter="url(#f8)">
<rect x="1341.7" y="738.44" width="60.6" height="2.99" fill="#f2a8b0"/>
<path d="M1341.7 246.9A30.3 25.5 0 0 1 1402.3 246.9L1402.3 720A30.3 23 0 0 1 1386.5 740.2L1375 753.5L1375 761.5L1399.77 785.09Q1402.3 787.5 1402.3 791L1402.3 1378.1A30.3 25.5 0 0 1 1341.7 1378.1L1341.7 791Q1341.7 787.5 1344.23 785.09L1369 761.5L1369 753.5L1357.5 740.2A30.3 23 0 0 1 1341.7 720Z" fill="#4dfffb"/>
<g clip-path="url(#c8)">
<rect x="1340.7" y="259.78" width="62.6" height="5.06" fill="#508898"/>
<rect x="1340.7" y="264.24" width="62.6" height="5.24" fill="#50b8c8"/>
<rect x="1340.7" y="336.34" width="62.6" height="5.84" fill="#a08890"/>
<rect x="1340.7" y="341.58" width="62.6" height="11.09" fill="#e01828"/>
<rect x="1340.7" y="352.07" width="62.6" height="2.7" fill="#e08088"/>
<rect x="1340.7" y="354.17" width="62.6" height="3.75" fill="#983040"/>
<rect x="1340.7" y="357.32" width="62.6" height="8.47" fill="#d82838"/>
<rect x="1340.7" y="365.18" width="62.6" height="3.22" fill="#e04050"/>
<rect x="1340.7" y="367.8" width="62.6" height="16.33" fill="#d02030"/>
<rect x="1340.7" y="383.53" width="62.6" height="3.22" fill="#c08890"/>
<rect x="1340.7" y="386.16" width="62.6" height="2.62" fill="#909098"/>
<rect x="1340.7" y="391.4" width="62.6" height="7.15" fill="#50a0a8"/>
<rect x="1340.7" y="397.95" width="62.6" height="6.03" fill="#90d8e0"/>
<rect x="1340.7" y="449.72" width="62.6" height="4.5" fill="#4fdee2"/>
<rect x="1340.7" y="493.5" width="62.6" height="4.5" fill="#4fc2c6"/>
<rect x="1340.7" y="738.44" width="62.6" height="2.99" fill="#4890a0"/>
<rect x="1340.7" y="1013.21" width="62.6" height="3" fill="#4fd8dd"/>
<rect x="1340.7" y="1022.31" width="62.6" height="5.84" fill="#70c0c8"/>
<rect x="1340.7" y="1027.56" width="62.6" height="7.94" fill="#586068"/>
<rect x="1340.7" y="1034.9" width="62.6" height="3.75" fill="#c0b0b8"/>
<rect x="1340.7" y="1038.04" width="62.6" height="3.22" fill="#d06070"/>
<rect x="1340.7" y="1040.67" width="62.6" height="8.99" fill="#e02030"/>
<rect x="1340.7" y="1049.06" width="62.6" height="4.01" fill="#a06870"/>
<rect x="1340.7" y="1052.46" width="62.6" height="12.4" fill="#80a0a8"/>
<rect x="1340.7" y="1064.26" width="62.6" height="5.84" fill="#a08890"/>
<rect x="1340.7" y="1069.51" width="62.6" height="10.49" fill="#d84050"/>
<rect x="1340.7" y="1212.74" width="62.6" height="2.62" fill="#60a8b0"/>
<rect x="1340.7" y="1233.72" width="62.6" height="4.53" fill="#70c8d0"/>
<rect x="1340.7" y="1237.65" width="62.6" height="7.15" fill="#c04848"/>
<rect x="1340.7" y="1244.21" width="62.6" height="8.39" fill="#e01828"/>
</g>
<path d="M1341.7 246.9A30.3 25.5 0 0 1 1402.3 246.9L1402.3 720A30.3 23 0 0 1 1386.5 740.2L1375 753.5L1375 761.5L1399.77 785.09Q1402.3 787.5 1402.3 791L1402.3 1378.1A30.3 25.5 0 0 1 1341.7 1378.1L1341.7 791Q1341.7 787.5 1344.23 785.09L1369 761.5L1369 753.5L1357.5 740.2A30.3 23 0 0 1 1341.7 720Z" fill="none" stroke="#606868" stroke-width="2.6" stroke-opacity="0.3" clip-path="url(#c8)"/>
</g>
<g id="chr9" filter="url(#f9)">
<rect x="1493" y="325.49" width="60.6" height="2.3" fill="#f4a8b0"/>
<path d="M1493 246.9A30.3 25.5 0 0 1 1553.6 246.9L1553.6 302A30.3 25 0 0 1 1529.3 326.5L1526.3 331L1526.3 338L1551.16 363.49Q1553.6 366 1553.6 369.5L1553.6 1154.5A30.3 25.5 0 0 1 1493 1154.5L1493 369.5Q1493 366 1495.44 363.49L1520.3 338L1520.3 331L1517.3 326.5A30.3 25 0 0 1 1493 302Z" fill="#4dfffb"/>
<g clip-path="url(#c9)">
<rect x="1492" y="275.32" width="62.6" height="3" fill="#4fb1b6"/>
<rect x="1492" y="325.49" width="62.6" height="2.3" fill="#60a8b0"/>
<rect x="1492" y="826.19" width="62.6" height="5.32" fill="#80c0c8"/>
<rect x="1492" y="830.91" width="62.6" height="11.61" fill="#8098a0"/>
<rect x="1492" y="841.92" width="62.6" height="5.32" fill="#c05060"/>
<rect x="1492" y="846.64" width="62.6" height="3.75" fill="#90e0e8"/>
<rect x="1492" y="849.79" width="62.6" height="2.62" fill="#50a0a8"/>
<rect x="1492" y="859.3" width="62.6" height="3" fill="#4fe4e8"/>
<rect x="1492" y="873.46" width="62.6" height="3" fill="#4fc2c6"/>
<rect x="1492" y="899.68" width="62.6" height="3" fill="#44acb0"/>
<rect x="1492" y="1100.45" width="62.6" height="7.68" fill="#e01828"/>
<rect x="1492" y="1107.52" width="62.6" height="2.44" fill="#e08890"/>
<rect x="1492" y="1109.36" width="62.6" height="9.25" fill="#885058"/>
<rect x="1492" y="1118.01" width="62.6" height="2.62" fill="#d0b0b8"/>
<rect x="1492" y="1144.23" width="62.6" height="3.75" fill="#80a0a8"/>
<rect x="1492" y="1147.38" width="62.6" height="2.62" fill="#b07078"/>
<rect x="1492" y="1144.05" width="62.6" height="4.27" fill="#90d0d8"/>
<rect x="1492" y="1147.72" width="62.6" height="5.32" fill="#709098"/>
<rect x="1492" y="1152.44" width="62.6" height="2.1" fill="#c0a0a8"/>
</g>
<path d="M1493 246.9A30.3 25.5 0 0 1 1553.6 246.9L1553.6 302A30.3 25 0 0 1 1529.3 326.5L1526.3 331L1526.3 338L1551.16 363.49Q1553.6 366 1553.6 369.5L1553.6 1154.5A30.3 25.5 0 0 1 1493 1154.5L1493 369.5Q1493 366 1495.44 363.49L1520.3 338L1520.3 331L1517.3 326.5A30.3 25 0 0 1 1493 302Z" fill="none" stroke="#606868" stroke-width="2.6" stroke-opacity="0.3" clip-path="url(#c9)"/>
</g>
<g id="chr10" filter="url(#f10)">
<rect x="1644.9" y="1182.41" width="60.6" height="2.99" fill="#f2b0b8"/>
<path d="M1644.9 246.9A30.3 25.5 0 0 1 1705.5 246.9L1705.5 529Q1705.5 532.5 1702.9 534.84L1678.2 557L1678.2 565L1702.87 586.69Q1705.5 589 1705.5 592.5L1705.5 1159.5A30.3 25.5 0 0 1 1644.9 1159.5L1644.9 592.5Q1644.9 589 1647.53 586.69L1672.2 565L1672.2 557L1647.5 534.84Q1644.9 532.5 1644.9 529Z" fill="#4dfffb"/>
<g clip-path="url(#c10)">
<rect x="1643.9" y="350.91" width="62.6" height="3.9" fill="#4fb1b6"/>
<rect x="1643.9" y="362.44" width="62.6" height="3.9" fill="#4fc2c6"/>
<rect x="1643.9" y="386.16" width="62.6" height="2.7" fill="#80d0d8"/>
<rect x="1643.9" y="388.25" width="62.6" height="3.67" fill="#508090"/>
<rect x="1643.9" y="643.1" width="62.6" height="3.22" fill="#50a0a8"/>
<rect x="1643.9" y="645.73" width="62.6" height="5.24" fill="#70d8e0"/>
<rect x="1643.9" y="806.53" width="62.6" height="3.22" fill="#609098"/>
<rect x="1643.9" y="809.15" width="62.6" height="6.03" fill="#a0c8d0"/>
<rect x="1643.9" y="821.74" width="62.6" height="2.44" fill="#c0a0a8"/>
<rect x="1643.9" y="823.57" width="62.6" height="2.1" fill="#504858"/>
<rect x="1643.9" y="843.42" width="62.6" height="3.3" fill="#4fc2c6"/>
<rect x="1643.9" y="917.44" width="62.6" height="5.84" fill="#b0c0c8"/>
<rect x="1643.9" y="922.68" width="62.6" height="3.75" fill="#506870"/>
<rect x="1643.9" y="925.83" width="62.6" height="6.63" fill="#808888"/>
<rect x="1643.9" y="931.86" width="62.6" height="7.15" fill="#c04050"/>
<rect x="1643.9" y="938.41" width="62.6" height="2.7" fill="#903848"/>
<rect x="1643.9" y="940.51" width="62.6" height="3.75" fill="#d0a0a8"/>
<rect x="1643.9" y="943.65" width="62.6" height="8.47" fill="#d03040"/>
<rect x="1643.9" y="951.52" width="62.6" height="7.15" fill="#c83848"/>
<rect x="1643.9" y="958.08" width="62.6" height="5.77" fill="#b07880"/>
<rect x="1643.9" y="971.19" width="62.6" height="7.15" fill="#60a0a8"/>
<rect x="1643.9" y="977.74" width="62.6" height="4.53" fill="#90d8e0"/>
<rect x="1643.9" y="981.67" width="62.6" height="3.22" fill="#70a8b0"/>
<rect x="1643.9" y="984.29" width="62.6" height="5.84" fill="#60b8c0"/>
<rect x="1643.9" y="989.54" width="62.6" height="6.03" fill="#70e0e8"/>
<rect x="1643.9" y="1003.96" width="62.6" height="18.95" fill="#e81020"/>
<rect x="1643.9" y="1022.31" width="62.6" height="5.24" fill="#a07080"/>
<rect x="1643.9" y="1044.6" width="62.6" height="4.01" fill="#a0c8d0"/>
<rect x="1643.9" y="1048.01" width="62.6" height="4.27" fill="#804850"/>
<rect x="1643.9" y="1051.68" width="62.6" height="11.27" fill="#a090a0"/>
<rect x="1643.9" y="1083.93" width="62.6" height="6.03" fill="#60c0c8"/>
<rect x="1643.9" y="1125.88" width="62.6" height="3.22" fill="#a06068"/>
<rect x="1643.9" y="1128.5" width="62.6" height="7.68" fill="#c03040"/>
<rect x="1643.9" y="1135.58" width="62.6" height="6.82" fill="#e090a0"/>
<rect x="1643.9" y="1182.41" width="62.6" height="2.99" fill="#60b0b8"/>
</g>
<path d="M1644.9 246.9A30.3 25.5 0 0 1 1705.5 246.9L1705.5 529Q1705.5 532.5 1702.9 534.84L1678.2 557L1678.2 565L1702.87 586.69Q1705.5 589 1705.5 592.5L1705.5 1159.5A30.3 25.5 0 0 1 1644.9 1159.5L1644.9 592.5Q1644.9 589 1647.53 586.69L1672.2 565L1672.2 557L1647.5 534.84Q1644.9 532.5 1644.9 529Z" fill="none" stroke="#606868" stroke-width="2.6" stroke-opacity="0.3" clip-path="url(#c10)"/>
</g>
<g id="chr11" filter="url(#f11)">
<path d="M1795.5 246.9A30.3 25.5 0 0 1 1856.1 246.9L1856.1 681.5Q1856.1 685 1853.62 687.47L1827.3 713.6L1827.3 721.6L1853.59 747.06Q1856.1 749.5 1856.1 753L1856.1 1402.2A30.3 25.5 0 0 1 1795.5 1402.2L1795.5 753Q1795.5 749.5 1798.01 747.06L1824.3 721.6L1824.3 713.6L1797.98 687.47Q1795.5 685 1795.5 681.5Z" fill="#4dfffb"/>
<g clip-path="url(#c11)">
<rect x="1794.5" y="246.67" width="62.6" height="2.7" fill="#90d0d8"/>
<rect x="1794.5" y="248.77" width="62.6" height="2.36" fill="#60a0a8"/>
<rect x="1794.5" y="285.21" width="62.6" height="4.53" fill="#70d0d8"/>
<rect x="1794.5" y="289.15" width="62.6" height="9.78" fill="#a08888"/>
<rect x="1794.5" y="298.32" width="62.6" height="5.84" fill="#d83038"/>
<rect x="1794.5" y="303.57" width="62.6" height="1.91" fill="#e06068"/>
<rect x="1794.5" y="304.88" width="62.6" height="4.53" fill="#d03040"/>
<rect x="1794.5" y="308.81" width="62.6" height="2.44" fill="#90d0d8"/>
<rect x="1794.5" y="310.64" width="62.6" height="5.32" fill="#60b0b8"/>
<rect x="1794.5" y="315.36" width="62.6" height="7.15" fill="#c8b0b8"/>
<rect x="1794.5" y="321.92" width="62.6" height="4.01" fill="#805060"/>
<rect x="1794.5" y="325.33" width="62.6" height="3.75" fill="#90c8d0"/>
<rect x="1794.5" y="328.47" width="62.6" height="5.84" fill="#7098a0"/>
<rect x="1794.5" y="333.72" width="62.6" height="5.84" fill="#90d0d8"/>
<rect x="1794.5" y="338.96" width="62.6" height="4.53" fill="#70a8b0"/>
<rect x="1794.5" y="342.89" width="62.6" height="7.08" fill="#e03040"/>
<rect x="1794.5" y="364.66" width="62.6" height="3.75" fill="#604050"/>
<rect x="1794.5" y="367.8" width="62.6" height="4.53" fill="#c09098"/>
<rect x="1794.5" y="371.74" width="62.6" height="7.15" fill="#804050"/>
<rect x="1794.5" y="378.29" width="62.6" height="4.53" fill="#e82028"/>
<rect x="1794.5" y="382.22" width="62.6" height="1.31" fill="#b0e0e8"/>
<rect x="1794.5" y="392.71" width="62.6" height="2.62" fill="#60c8d0"/>
<rect x="1794.5" y="403.99" width="62.6" height="5.24" fill="#c05060"/>
<rect x="1794.5" y="417.62" width="62.6" height="2.62" fill="#60a0a8"/>
<rect x="1794.5" y="887.36" width="62.6" height="3" fill="#4fc8cc"/>
<rect x="1794.5" y="944.03" width="62.6" height="2.4" fill="#4fd3d7"/>
<rect x="1794.5" y="946.28" width="62.6" height="6.37" fill="#70e0e8"/>
<rect x="1794.5" y="952.05" width="62.6" height="4.01" fill="#50a0a8"/>
<rect x="1794.5" y="955.45" width="62.6" height="4.53" fill="#80d8e0"/>
<rect x="1794.5" y="959.39" width="62.6" height="5.84" fill="#506870"/>
<rect x="1794.5" y="964.63" width="62.6" height="6.37" fill="#80c0c8"/>
<rect x="1794.5" y="970.4" width="62.6" height="9.25" fill="#7090a0"/>
<rect x="1794.5" y="979.05" width="62.6" height="4.46" fill="#60a8b0"/>
</g>
<path d="M1795.5 246.9A30.3 25.5 0 0 1 1856.1 246.9L1856.1 681.5Q1856.1 685 1853.62 687.47L1827.3 713.6L1827.3 721.6L1853.59 747.06Q1856.1 749.5 1856.1 753L1856.1 1402.2A30.3 25.5 0 0 1 1795.5 1402.2L1795.5 753Q1795.5 749.5 1798.01 747.06L1824.3 721.6L1824.3 713.6L1797.98 687.47Q1795.5 685 1795.5 681.5Z" fill="none" stroke="#606868" stroke-width="2.6" stroke-opacity="0.3" clip-path="url(#c11)"/>
</g>
<g id="chr12" filter="url(#f12)">
<rect x="1947.7" y="1360.88" width="60.6" height="4.46" fill="#e88898"/>
<path d="M1947.7 246.9A30.3 25.5 0 0 1 2008.3 246.9L2008.3 681.5Q2008.3 685 2005.79 687.44L1981 711.5L1981 719.5L2005.77 743.09Q2008.3 745.5 2008.3 749L2008.3 1339.3A30.3 25.5 0 0 1 1947.7 1339.3L1947.7 749Q1947.7 745.5 1950.23 743.09L1975 719.5L1975 711.5L1950.21 687.44Q1947.7 685 1947.7 681.5Z" fill="#4dfffb"/>
<g clip-path="url(#c12)">
<rect x="1946.7" y="312.74" width="62.6" height="3.22" fill="#80d0d8"/>
<rect x="1946.7" y="315.36" width="62.6" height="7.87" fill="#8098a0"/>
<rect x="1946.7" y="336.34" width="62.6" height="4.53" fill="#90c8d0"/>
<rect x="1946.7" y="340.27" width="62.6" height="5.84" fill="#904858"/>
<rect x="1946.7" y="345.52" width="62.6" height="11.09" fill="#c08088"/>
<rect x="1946.7" y="356" width="62.6" height="3.22" fill="#8098a0"/>
<rect x="1946.7" y="358.63" width="62.6" height="5.84" fill="#70c8d0"/>
<rect x="1946.7" y="363.87" width="62.6" height="4.53" fill="#508890"/>
<rect x="1946.7" y="367.8" width="62.6" height="10.56" fill="#70d8e0"/>
<rect x="1946.7" y="377.77" width="62.6" height="2.62" fill="#507880"/>
<rect x="1946.7" y="388.78" width="62.6" height="3.22" fill="#a05060"/>
<rect x="1946.7" y="391.4" width="62.6" height="3.22" fill="#c08088"/>
<rect x="1946.7" y="394.02" width="62.6" height="3.75" fill="#506070"/>
<rect x="1946.7" y="397.17" width="62.6" height="6.03" fill="#a8c0c8"/>
<rect x="1946.7" y="405.82" width="62.6" height="3.41" fill="#50a8b0"/>
<rect x="1946.7" y="448.93" width="62.6" height="4.5" fill="#5ad8dd"/>
<rect x="1946.7" y="540.21" width="62.6" height="3.9" fill="#4fc2c6"/>
<rect x="1946.7" y="1153.26" width="62.6" height="3.6" fill="#4fe9ee"/>
<rect x="1946.7" y="1360.88" width="62.6" height="4.46" fill="#58a0a8"/>
</g>
<path d="M1947.7 246.9A30.3 25.5 0 0 1 2008.3 246.9L2008.3 681.5Q2008.3 685 2005.79 687.44L1981 711.5L1981 719.5L2005.77 743.09Q2008.3 745.5 2008.3 749L2008.3 1339.3A30.3 25.5 0 0 1 1947.7 1339.3L1947.7 749Q1947.7 745.5 1950.23 743.09L1975 719.5L1975 711.5L1950.21 687.44Q1947.7 685 1947.7 681.5Z" fill="none" stroke="#606868" stroke-width="2.6" stroke-opacity="0.3" clip-path="url(#c12)"/>
</g>
<rect x="1064" y="1519.2" width="11" height="4.2" fill="#d6d6d6"/>
</g>
<g id="legend">
<rect x="1621.7" y="1708.8" width="110.1" height="25.4" fill="#4dfffb"/>
<rect x="1621.7" y="1798.4" width="110.1" height="25.7" fill="#c72832"/>
<text transform="translate(1764.8 1734.2) scale(1.04 0.97)" font-size="50">Hanhui 3</text>
<text transform="translate(1763.5 1826.7) scale(1.05 0.97)" font-size="50">Hanhui 8200</text>
</g>
</svg>
</body>
</html>
